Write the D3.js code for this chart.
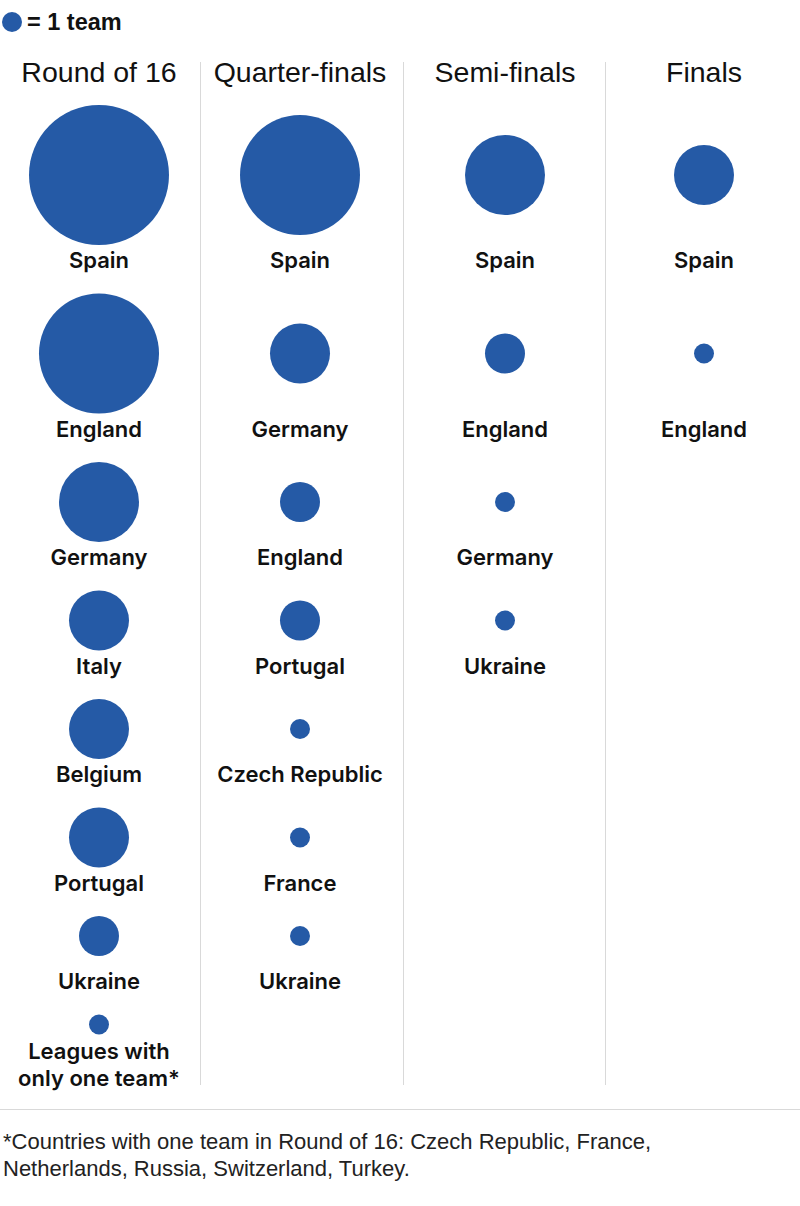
<!DOCTYPE html>
<html>
<head>
<meta charset="utf-8">
<script src="https://cdn.jsdelivr.net/npm/d3@7"></script>
<style>
  html, body { margin: 0; padding: 0; background: #fff; }
  svg { display: block; }
</style>
</head>
<body>
<svg id="chart" width="800" height="1206"></svg>
<script>
// ---- data ----
const stages = ["Round of 16", "Quarter-finals", "Semi-finals", "Finals"];
const r16Leagues = ["Spain", "England", "Germany", "Italy", "Belgium", "Portugal", "Ukraine", "Leagues with|only one team*"];
const r16Teams = [7, 6, 4, 3, 3, 3, 2, 1];
const qfLeagues = ["Spain", "Germany", "England", "Portugal", "Czech Republic", "France", "Ukraine"];
const qfTeams = [6, 3, 2, 2, 1, 1, 1];
const sfLeagues = ["Spain", "England", "Germany", "Ukraine"];
const sfTeams = [4, 2, 1, 1];
const finalLeagues = ["Spain", "England"];
const finalTeams = [3, 1];
const legendLabel = "= 1 team";
const footnoteLines = [
  "*Countries with one team in Round of 16: Czech Republic, France,",
  "Netherlands, Russia, Switzerland, Turkey."
];

const columns = [
  { stage: stages[0], leagues: r16Leagues, teams: r16Teams },
  { stage: stages[1], leagues: qfLeagues, teams: qfTeams },
  { stage: stages[2], leagues: sfLeagues, teams: sfTeams },
  { stage: stages[3], leagues: finalLeagues, teams: finalTeams }
];

// ---- styles ----
const BLUE = "#255aa6";
const BASE_FONT = "'Liberation Sans', Arial, sans-serif";
const LABEL_FONT = "Inter, 'Liberation Sans', Arial, sans-serif";
const svg = d3.select("#chart");

// scales
const x = d3.scaleOrdinal().domain(stages).range([99, 300, 505, 704]);
const r = d3.scaleLinear().domain([0, 1]).range([0, 10]);

// row layout computed from the largest circle in each row
const nRows = d3.max(columns, c => c.teams.length);
const rows = [];
let rowTop = 105;
for (let i = 0; i < nRows; i++) {
  const maxR = d3.max(columns, c => c.teams[i] != null ? r(c.teams[i]) : 0);
  const cy = rowTop + maxR;
  const multi = r16Leagues[i] && r16Leagues[i].includes("|");
  const base = multi ? cy + maxR + 24 : cy + Math.max(maxR, 30) + 23;
  const lastBase = multi ? base + 27 : base;
  rows.push({ cy, base });
  rowTop = lastBase + 25.5;
}

// legend
svg.append("circle").attr("cx", 12).attr("cy", 22).attr("r", r(1)).attr("fill", BLUE);
svg.append("text").attr("x", 27).attr("y", 30)
  .attr("font-family", BASE_FONT).attr("font-weight", "bold").attr("font-size", 23.5)
  .attr("fill", "#111").text(legendLabel);

// dividers
const mids = stages.slice(1).map((s, i) => (x(stages[i]) + x(s)) / 2 + 1);
svg.selectAll("line.div").data(mids).join("line")
  .attr("class", "div")
  .attr("x1", d => d).attr("x2", d => d)
  .attr("y1", 62).attr("y2", 1085)
  .attr("stroke", "#d9d9d9").attr("stroke-width", 1);

// headers
svg.selectAll("text.hdr").data(stages).join("text")
  .attr("class", "hdr")
  .attr("x", d => x(d)).attr("y", 82)
  .attr("text-anchor", "middle")
  .attr("font-family", BASE_FONT).attr("font-size", 28.5)
  .attr("fill", "#111").text(d => d);

// circles and labels
columns.forEach(col => {
  const g = svg.append("g");
  const items = col.leagues.map((l, i) => ({ league: l, teams: col.teams[i], row: rows[i] }));
  g.selectAll("circle").data(items).join("circle")
    .attr("cx", x(col.stage))
    .attr("cy", d => d.row.cy)
    .attr("r", d => r(d.teams))
    .attr("fill", BLUE);
  const t = g.selectAll("text").data(items).join("text")
    .attr("x", x(col.stage))
    .attr("y", d => d.row.base)
    .attr("text-anchor", "middle")
    .attr("font-family", LABEL_FONT).attr("font-weight", 600).attr("font-size", 22)
    .attr("fill", "#111");
  t.each(function (d) {
    const parts = d.league.split("|");
    const sel = d3.select(this);
    parts.forEach((p, k) => {
      sel.append("tspan").attr("x", x(col.stage)).attr("dy", k === 0 ? 0 : 27).text(p);
    });
  });
});

// footer rule & footnote
svg.append("line").attr("x1", 0).attr("x2", 800).attr("y1", 1109.5).attr("y2", 1109.5)
  .attr("stroke", "#d9d9d9").attr("stroke-width", 1);
svg.selectAll("text.foot").data(footnoteLines).join("text")
  .attr("class", "foot")
  .attr("x", 3).attr("y", (d, i) => 1149 + i * 27)
  .attr("font-family", BASE_FONT).attr("font-size", 22)
  .attr("fill", "#222").text(d => d);
</script>
</body>
</html>
